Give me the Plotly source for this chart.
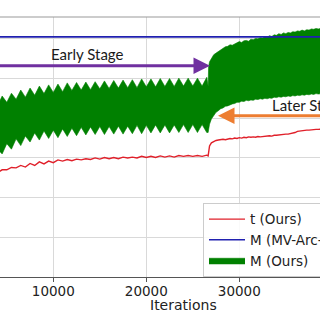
import plotly.graph_objects as go

# ---- data (y in grid units, gridlines at 1..6) ----
early_iters = list(range(4000, 26501, 500))
early_m_upper = [4.31, 4.56, 4.40, 4.63, 4.48, 4.71, 4.53, 4.76, 4.58, 4.81, 4.62, 4.84,
                 4.65, 4.86, 4.67, 4.89, 4.70, 4.90, 4.71, 4.91, 4.72, 4.92, 4.74, 4.94,
                 4.75, 4.95, 4.76, 4.96, 4.77, 4.97, 4.77, 4.99, 4.79, 4.99, 4.79, 5.00,
                 4.80, 5.00, 4.80, 5.01, 4.81, 5.01, 4.81, 5.01, 4.81, 5.03]
early_m_lower = [3.22, 3.10, 3.36, 3.22, 3.48, 3.31, 3.55, 3.40, 3.63, 3.45, 3.68, 3.49,
                 3.70, 3.51, 3.73, 3.54, 3.75, 3.56, 3.77, 3.58, 3.78, 3.59, 3.79, 3.59,
                 3.79, 3.60, 3.80, 3.60, 3.80, 3.61, 3.82, 3.61, 3.82, 3.63, 3.83, 3.63,
                 3.83, 3.63, 3.83, 3.64, 3.84, 3.64, 3.84, 3.64, 3.84, 3.64]
early_t = [2.63, 2.70, 2.70, 2.76, 2.75, 2.81, 2.77, 2.86, 2.81, 2.90, 2.85, 2.92,
           2.88, 2.95, 2.92, 2.96, 2.93, 2.97, 2.95, 2.98, 2.96, 3.00, 2.97, 3.01,
           2.98, 3.01, 2.98, 3.02, 3.00, 3.02, 3.00, 3.04, 3.01, 3.04, 3.01, 3.05,
           3.02, 3.05, 3.02, 3.06, 3.04, 3.06, 3.04, 3.06, 3.04, 3.07]

late_iters = [26650, 26700, 26800] + list(range(27000, 39001, 250))
late_m_upper = [4.81, 5.30, 5.42,
                5.52, 5.60, 5.64, 5.68, 5.74, 5.76, 5.80, 5.81, 5.85, 5.84, 5.88, 5.90,
                5.93, 5.91, 5.95, 5.96, 5.94, 5.99, 5.98, 6.01, 6.00, 6.03, 6.02, 6.05,
                6.04, 6.08, 6.06, 6.10, 6.09, 6.13, 6.11, 6.15, 6.13, 6.16, 6.15, 6.18,
                6.17, 6.20, 6.19, 6.22, 6.20, 6.23, 6.22, 6.25, 6.24, 6.26, 6.25, 6.27, 6.27]
late_m_lower = [3.64, 3.70, 3.85,
                3.98, 4.08, 4.15, 4.19, 4.24, 4.26, 4.30, 4.31, 4.34, 4.36, 4.37, 4.40,
                4.40, 4.43, 4.42, 4.45, 4.44, 4.46, 4.45, 4.48, 4.47, 4.49, 4.48, 4.50,
                4.49, 4.51, 4.50, 4.53, 4.52, 4.54, 4.53, 4.55, 4.54, 4.56, 4.55, 4.57,
                4.56, 4.58, 4.57, 4.59, 4.58, 4.60, 4.59, 4.61, 4.60, 4.62, 4.61, 4.62, 4.62]
late_t = [3.05, 3.20, 3.30,
          3.38, 3.42, 3.44, 3.45, 3.46, 3.47, 3.46, 3.48, 3.49, 3.48, 3.50, 3.49,
          3.51, 3.50, 3.52, 3.51, 3.53, 3.52, 3.53, 3.52, 3.54, 3.53, 3.54, 3.55,
          3.55, 3.56, 3.55, 3.57, 3.57, 3.58, 3.58, 3.59, 3.60, 3.60, 3.61, 3.62,
          3.64, 3.67, 3.68, 3.69, 3.69, 3.70, 3.70, 3.71, 3.71, 3.72, 3.72, 3.72, 3.73]

mv_arc_iters = [0, 45000]
mv_arc_m = [6.05, 6.05]

x_ticks = [10000, 20000, 30000, 40000]
y_grid = [1, 2, 3, 4, 5, 6]

early_stage_arrow = dict(tail=(3000, 5.32), head=(26850, 5.32))
later_stage_arrow = dict(tail=(42000, 4.06), head=(27710, 4.06))

iters = early_iters + late_iters
m_upper = early_m_upper + late_m_upper
m_lower = early_m_lower + late_m_lower
t_vals = early_t + late_t

FONT = "DejaVu Sans"
fig = go.Figure()

fig.add_trace(go.Scatter(x=iters, y=m_lower, mode="lines",
                         line=dict(color="#008000", width=0.6),
                         showlegend=False, hoverinfo="skip"))
fig.add_trace(go.Scatter(x=iters, y=m_upper, mode="lines", fill="tonexty",
                         fillcolor="#008000", line=dict(color="#008000", width=0.6),
                         name="M (Ours)", legendrank=3))
fig.add_trace(go.Scatter(x=mv_arc_iters, y=mv_arc_m, mode="lines",
                         line=dict(color="#2020b0", width=1.6),
                         name="M (MV-Arc-Softmax)", legendrank=2))
fig.add_trace(go.Scatter(x=iters, y=t_vals, mode="lines",
                         line=dict(color="#e0202a", width=1.4),
                         name="t (Ours)", legendrank=1))

fig.add_annotation(x=early_stage_arrow["head"][0], y=early_stage_arrow["head"][1],
                   ax=early_stage_arrow["tail"][0], ay=early_stage_arrow["tail"][1],
                   xref="x", yref="y", axref="x", ayref="y", text="",
                   showarrow=True, arrowhead=2, arrowsize=1.1, arrowwidth=3,
                   arrowcolor="#7030a0")
fig.add_annotation(x=later_stage_arrow["head"][0], y=later_stage_arrow["head"][1],
                   ax=later_stage_arrow["tail"][0], ay=later_stage_arrow["tail"][1],
                   xref="x", yref="y", axref="x", ayref="y", text="",
                   showarrow=True, arrowhead=2, arrowsize=1.1, arrowwidth=3,
                   arrowcolor="#ed7d31")
fig.add_annotation(x=13624, y=5.62, xref="x", yref="y", text="Early Stage",
                   showarrow=False, font=dict(family="Lato", size=15, color="#1a1a1a"),
                   xanchor="center", yanchor="middle")
fig.add_annotation(x=33300, y=4.33, xref="x", yref="y", text="Later Stage",
                   showarrow=False, font=dict(family="Lato", size=15, color="#1a1a1a"),
                   xanchor="left", yanchor="middle")
fig.add_annotation(x=183 / 320, y=-0.108, xref="paper", yref="paper", text="Iterations",
                   showarrow=False, font=dict(family=FONT, size=14, color="#222"),
                   xanchor="center", yanchor="middle")

fig.add_shape(type="line", xref="paper", yref="paper", x0=0, x1=1, y0=1, y1=1,
              line=dict(color="#999", width=1))

fig.update_layout(
    width=320, height=320,
    margin=dict(l=0, r=0, t=17, b=43, autoexpand=False),
    paper_bgcolor="white", plot_bgcolor="white",
    font=dict(family=FONT, size=13.5, color="#222"),
    xaxis=dict(range=[4269, 38678], tickvals=x_ticks, ticktext=[str(v) for v in x_ticks],
               showgrid=True, gridcolor="#d9d9d9", gridwidth=1,
               showline=True, linecolor="#555", linewidth=1,
               ticks="outside", ticklen=3.5, tickcolor="#555", ticklabelstandoff=-2,
               zeroline=False, tickfont=dict(size=13.5, family=FONT, color="#222")),
    yaxis=dict(range=[0, 6.55], tickvals=y_grid, showticklabels=False,
               showgrid=True, gridcolor="#d9d9d9", gridwidth=1,
               zeroline=False, showline=False, ticks=""),
    legend=dict(x=203 / 320, y=0.285, xanchor="left", yanchor="top",
                bgcolor="rgba(255,255,255,0.85)", bordercolor="#cccccc", borderwidth=1,
                font=dict(family=FONT, size=13.5, color="#222"), itemwidth=36,
                traceorder="normal"),
    showlegend=True,
)

fig.write_html("out.html")
